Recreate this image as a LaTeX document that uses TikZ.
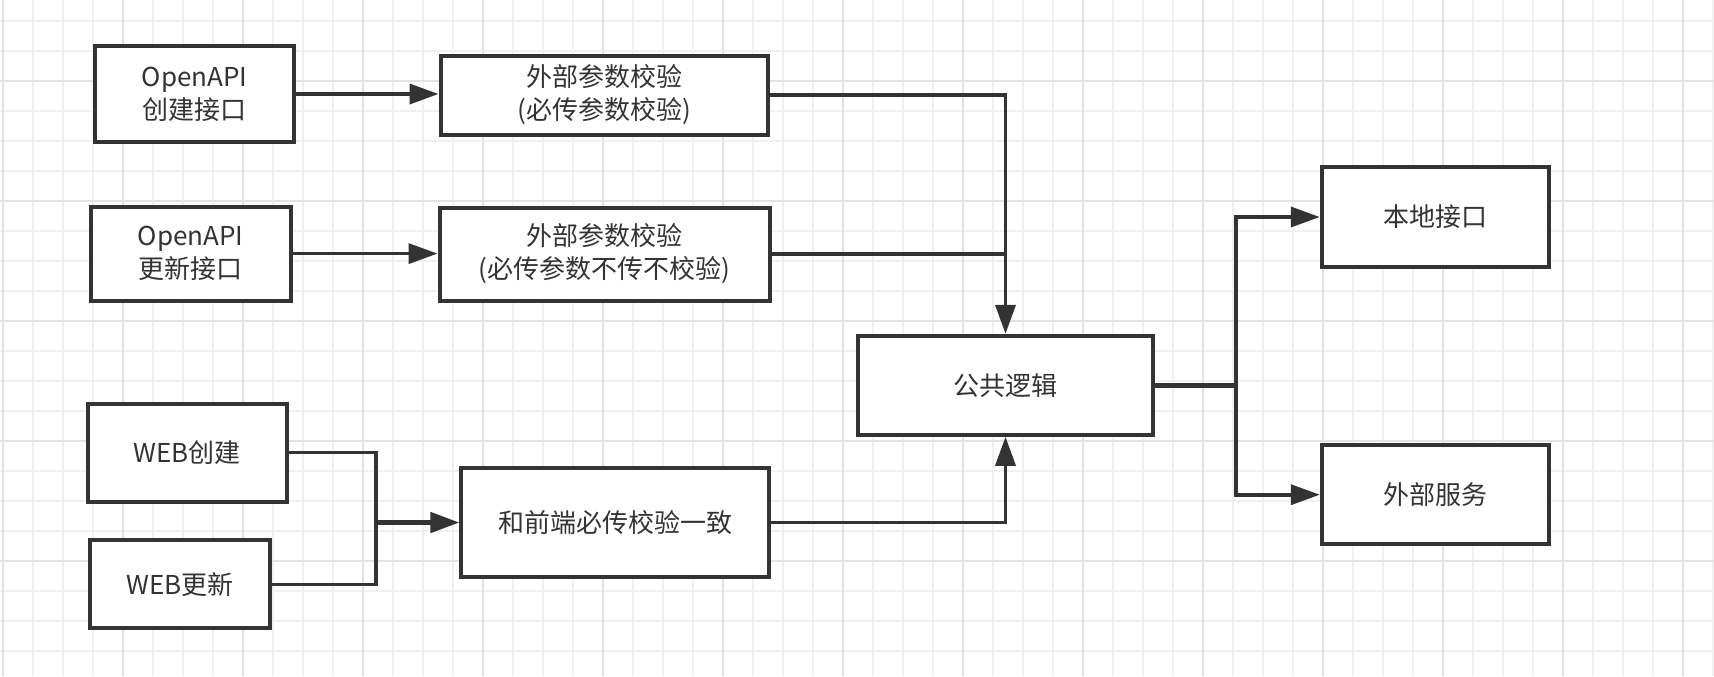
\documentclass[tikz,border=0pt]{standalone}
\usepackage{fontspec}
\setmainfont{Noto Sans CJK SC}
\usepackage{tikz}
\usetikzlibrary{arrows.meta}
\definecolor{ink}{RGB}{51,51,51}
\definecolor{gridminor}{RGB}{240,240,240}
\definecolor{gridmajor}{RGB}{226,226,226}

\begin{document}
\begin{tikzpicture}[
  x=0.5pt, y=-0.5pt,
  every node/.style={font=\fontsize{13pt}{16.5pt}\selectfont, text=ink, align=center},
  box/.style={draw=ink, line width=2pt, fill=white, inner sep=0pt},
  link/.style={draw=ink, line width=1.8pt},
  trunk/.style={link, line width=2.3pt},
  arr/.style={link, -{Triangle[length=14.5pt, width=10pt]}},
  minorline/.style={draw=gridminor, line width=0.9pt},
  majorline/.style={draw=gridmajor, line width=1pt},
]
  % paper with grid
  \useasboundingbox (0,0) rectangle (1714,676);
  \fill[white] (0,0) rectangle (1714,676);
  \foreach \x in {3,33,...,1713} \draw[minorline] (\x,0) -- (\x,676);
  \foreach \y in {21,51,...,651} \draw[minorline] (0,\y) -- (1714,\y);
  \foreach \x in {3,123,...,1683} \draw[majorline] (\x,0) -- (\x,676);
  \foreach \y in {81,201,...,561} \draw[majorline] (0,\y) -- (1714,\y);

  % entry points
  \node[box, minimum width=99.5pt, minimum height=48pt] (apiNew) at (194.5,94) {OpenAPI\\创建接口};
  \node[box, minimum width=100pt, minimum height=47pt] (apiUpd) at (190.7,253.6) {OpenAPI\\更新接口};
  \node[box, minimum width=99.5pt, minimum height=49pt] (webNew) at (187,452.5) {WEB创建};
  \node[box, minimum width=90pt, minimum height=44pt] (webUpd) at (179.8,584.3) {WEB更新};

  % checks
  \node[box, minimum width=163.5pt, minimum height=39.5pt] (chkNew) at (604,95) {外部参数校验\\(必传参数校验)};
  \node[box, minimum width=165pt, minimum height=46.5pt] (chkUpd) at (604.5,254) {外部参数校验\\(必传参数不传不校验)};
  \node[box, minimum width=154pt, minimum height=54.5pt] (chkWeb) at (615.4,522.5) {和前端必传校验一致};

  % shared logic and targets
  \node[box, minimum width=147.5pt, minimum height=49.5pt] (common) at (1005.5,385.3) {公共逻辑};
  \node[box, minimum width=113.5pt, minimum height=49.75pt] (local) at (1435.3,217) {本地接口};
  \node[box, minimum width=113.5pt, minimum height=49.75pt] (remote) at (1435.3,494.7) {外部服务};

  \draw[arr] (apiNew.east) -- (apiNew.east -| chkNew.west);
  \draw[arr] (apiUpd.east) -- (apiUpd.east -| chkUpd.west);
  \draw[arr] (chkNew.east) -| (common.north);
  \draw[link] (chkUpd.east) -- (chkUpd.east -| common.north);

  \coordinate (webjoin) at (376,522.5);
  \draw[link] (webNew.east) -| (webjoin);
  \draw[link] (webUpd.east) -| (webjoin);
  \draw[arr, trunk] (webjoin) -- (chkWeb.west);
  \draw[arr] (chkWeb.east) -| (common.south);

  \coordinate (fork) at (1236,385.3);
  \draw[trunk] (common.east) -- (fork);
  \draw[arr] (fork) |- (local.west);
  \draw[arr] (fork) |- (remote.west);
\end{tikzpicture}
\end{document}
